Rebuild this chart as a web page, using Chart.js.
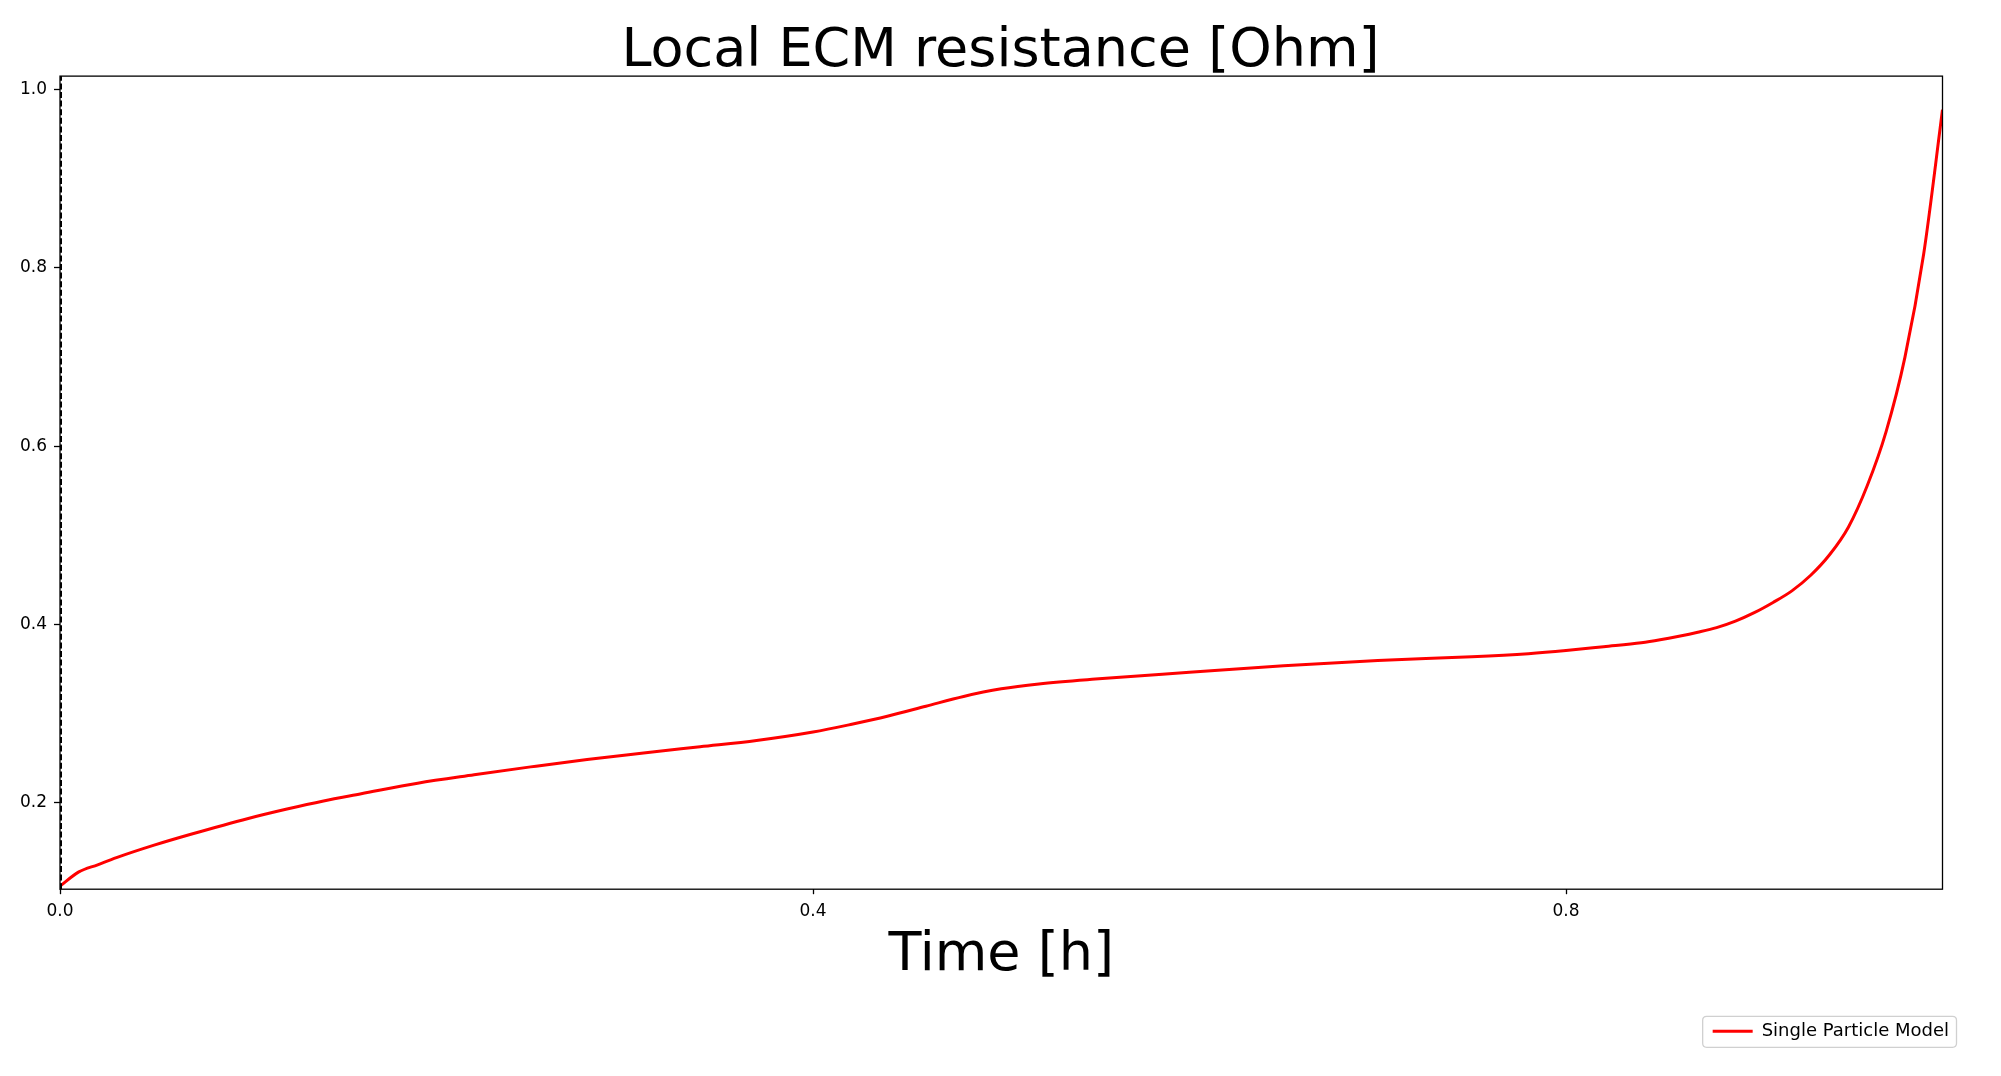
<!DOCTYPE html>
<html>
<head>
<meta charset="utf-8">
<script src="https://cdn.jsdelivr.net/npm/chart.js@4/dist/chart.umd.min.js"></script>
<style>
  html, body { margin: 0; padding: 0; background: #fff; }
  #wrap { width: 2001px; height: 1076px; }
</style>
</head>
<body>
<div id="wrap"><canvas id="c" width="2001" height="1076"></canvas></div>
<script>
// ---- data ----
const timeHours = [0, 0.01, 0.02, 0.03, 0.05, 0.07, 0.10, 0.12, 0.14, 0.16, 0.19, 0.22, 0.25, 0.28, 0.31, 0.34, 0.37, 0.40, 0.42, 0.44, 0.46, 0.48, 0.50, 0.52, 0.55, 0.60, 0.65, 0.70, 0.75, 0.78, 0.80, 0.82, 0.84, 0.85, 0.86, 0.87, 0.88, 0.89, 0.90, 0.91, 0.92, 0.93, 0.94, 0.95, 0.96, 0.97, 0.98, 0.99, 1.00];
const resistanceOhm = [0.106, 0.122, 0.130, 0.138, 0.152, 0.1645, 0.182, 0.1923, 0.2017, 0.2097, 0.2216, 0.231, 0.2399, 0.2483, 0.2555, 0.2625, 0.2695, 0.279, 0.2875, 0.297, 0.308, 0.319, 0.3275, 0.333, 0.3385, 0.346, 0.3533, 0.3594, 0.3635, 0.367, 0.3705, 0.3748, 0.3792, 0.3825, 0.3865, 0.391, 0.3962, 0.4035, 0.413, 0.4245, 0.4375, 0.455, 0.478, 0.509, 0.5555, 0.616, 0.6993, 0.8156, 0.9775];
const markerTime = [0];
const xTicks = [0.0, 0.4, 0.8];
const yTicks = [0.2, 0.4, 0.6, 0.8, 1.0];
const xRange = [0, 1.0];
const yRange = [0.1026, 1.0153];
const seriesName = 'Single Particle Model';
const chartTitle = 'Local ECM resistance [Ohm]';
const xTitle = 'Time [h]';

const FONT = "'DejaVu Sans', 'Liberation Sans', sans-serif";

const seriesPoints = timeHours.map((t, i) => ({ x: t, y: resistanceOhm[i] }));
const markerPoints = [{ x: markerTime[0], y: yRange[0] }, { x: markerTime[0], y: yRange[1] }];

const framePlugin = {
  id: 'frame',
  afterDatasetsDraw(chart) {
    const { ctx, chartArea: a } = chart;
    ctx.save();
    ctx.strokeStyle = '#000';
    ctx.lineWidth = 1.3;
    ctx.strokeRect(a.left, a.top, a.right - a.left, a.bottom - a.top);
    ctx.restore();
  },
  afterDraw(chart) {
    const lg = chart.legend;
    if (!lg || !lg.legendHitBoxes || !lg.legendHitBoxes.length) return;
    const hb = lg.legendHitBoxes[0];
    const x = hb.left - 10, y = hb.top - 6, w = hb.width + 17.5, h = 31, r = 4;
    const ctx = chart.ctx;
    ctx.save();
    ctx.strokeStyle = '#d0d0d0';
    ctx.lineWidth = 1.3;
    ctx.beginPath();
    ctx.moveTo(x + r, y);
    ctx.lineTo(x + w - r, y); ctx.quadraticCurveTo(x + w, y, x + w, y + r);
    ctx.lineTo(x + w, y + h - r); ctx.quadraticCurveTo(x + w, y + h, x + w - r, y + h);
    ctx.lineTo(x + r, y + h); ctx.quadraticCurveTo(x, y + h, x, y + h - r);
    ctx.lineTo(x, y + r); ctx.quadraticCurveTo(x, y, x + r, y);
    ctx.closePath();
    ctx.stroke();
    ctx.restore();
  }
};

new Chart(document.getElementById('c'), {
  type: 'line',
  data: {
    datasets: [
      {
        label: seriesName,
        data: seriesPoints,
        borderColor: '#ff0000',
        backgroundColor: '#ff0000',
        borderWidth: 3,
        pointRadius: 0,
        cubicInterpolationMode: 'monotone',
        fill: false,
        order: 1
      },
      {
        label: 'marker',
        data: markerPoints,
        borderColor: '#000',
        borderWidth: 4,
        borderDash: [6, 2.6],
        pointRadius: 0,
        fill: false,
        clip: { left: 0, top: 0, right: 2, bottom: 0 },
        order: 0
      }
    ]
  },
  options: {
    responsive: false,
    devicePixelRatio: 1,
    animation: false,
    layout: { padding: { top: 0, left: 0, right: 0, bottom: 25.7 } },
    plugins: {
      title: {
        display: true,
        text: chartTitle,
        color: '#000',
        font: { family: FONT, size: 54, weight: 'normal', lineHeight: 0.88 },
        padding: { top: 28.6, bottom: 0 }
      },
      legend: {
        display: true,
        position: 'bottom',
        align: 'end',
        labels: {
          boxWidth: 40,
          boxHeight: 3,
          padding: 52,
          color: '#000',
          font: { family: FONT, size: 18 },
          generateLabels(chart) {
            const items = Chart.defaults.plugins.legend.labels.generateLabels(chart);
            items.forEach(it => { it.lineWidth = 0; it.fillStyle = '#ff0000'; });
            return items.filter(it => it.datasetIndex === 0);
          }
        }
      },
      tooltip: { enabled: false }
    },
    scales: {
      x: {
        type: 'linear',
        position: 'bottom',
        min: xRange[0],
        max: xRange[1],
        border: { display: false },
        grid: { display: true, drawOnChartArea: false, drawTicks: true, tickLength: 5, tickColor: '#000', tickWidth: 1.3 },
        ticks: {
          color: '#000',
          font: { family: FONT, size: 17 },
          padding: 7.4,
          maxRotation: 0,
          autoSkip: false,
          callback: v => Number(v).toFixed(1)
        },
        afterBuildTicks: s => { s.ticks = xTicks.map(v => ({ value: v })); },
        title: {
          display: true,
          text: xTitle,
          color: '#000',
          font: { family: FONT, size: 54, weight: 'normal', lineHeight: 1 },
          padding: { top: -0.8, bottom: -12.3 }
        }
      },
      y: {
        type: 'linear',
        position: 'left',
        min: yRange[0],
        max: yRange[1],
        border: { display: false },
        grid: { display: true, drawOnChartArea: false, drawTicks: true, tickLength: 6, tickColor: '#000', tickWidth: 1.3 },
        ticks: {
          color: '#000',
          font: { family: FONT, size: 17 },
          padding: 7,
          autoSkip: false,
          callback: v => Number(v).toFixed(1)
        },
        afterBuildTicks: s => { s.ticks = yTicks.map(v => ({ value: v })); },
        afterFit: s => { s.width = 60; }
      },
      y2: {
        type: 'linear',
        position: 'right',
        display: true,
        min: 0, max: 1,
        border: { display: false },
        grid: { display: false, drawTicks: false },
        ticks: { display: false },
        afterFit: s => { s.width = 58.5; }
      }
    }
  },
  plugins: [framePlugin]
});
</script>
</body>
</html>
